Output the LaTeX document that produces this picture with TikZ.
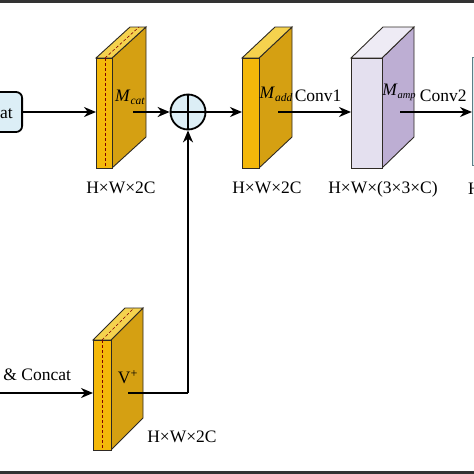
\documentclass[tikz,border=0pt]{standalone}
\usepackage{fontspec}
\setmainfont{Liberation Serif}
\usetikzlibrary{arrows.meta}
\definecolor{goldF}{HTML}{F4B80A}
\definecolor{goldS}{HTML}{D5A012}
\definecolor{goldT}{HTML}{F5D24E}
\definecolor{lavF}{HTML}{E4E0EF}
\definecolor{lavS}{HTML}{BDAED3}
\definecolor{lavT}{HTML}{EEEBF5}
\definecolor{edge}{HTML}{2E2A24}
\definecolor{opblue}{HTML}{DCEEF6}
\definecolor{tealF}{HTML}{DDEDEF}
\definecolor{tealE}{HTML}{5B7F86}
\newcommand\slab[8]{%
  \filldraw[#8S, draw=edge, line width=0.9pt] (#4,#3) -- ({#4+#6},{#3+#7}) -- ({#4+#6},{#5+#7}) -- (#4,#5) -- cycle;
  \filldraw[#8T, draw=edge, line width=0.9pt] (#2,#3) -- ({#2+#6},{#3+#7}) -- ({#4+#6},{#3+#7}) -- (#4,#3) -- cycle;
  \node[draw=edge, fill=#8F, line width=0.9pt, inner sep=0pt, outer sep=0pt, minimum width={#4-#2}, minimum height={#5-#3}, anchor=north west] (#1) at (#2,#3) {};
}
\begin{document}
\begin{tikzpicture}[x=1pt,y=-1pt,
  lbl/.style={font=\fontsize{17.5}{20}\selectfont, inner sep=0pt},
  arr/.style={line width=2.2pt, -{Stealth[length=12pt,width=10pt]}},
  ln/.style={line width=2.2pt},
  frame/.style={line width=3pt, draw=black!80}]
\useasboundingbox (0,0) rectangle (474,474);
\draw[frame] (0,1.5) -- (474,1.5);
\draw[frame] (0,472.5) -- (474,472.5);
% concat box
\node[draw, line width=1.8pt, fill=opblue, rounded corners=6pt, minimum width=60pt, minimum height=40pt, anchor=east, inner sep=0pt] (cbox) at (23,112) {};
\node[lbl, anchor=east] (ctext) at (13,113) {Concat};
% slabs
\slab{b1}{96}{58}{112}{168}{34}{-31}{gold}
\draw[densely dashed, draw=red!50!black, line width=0.6pt] (105,58) -- (105,168);
\draw[densely dashed, draw=red!50!black, line width=0.6pt] (105,58) -- (139,27);
\slab{b2}{242}{58}{259}{168}{33}{-31}{gold}
\slab{b3}{351}{58}{382}{168}{32}{-31}{lav}
\slab{bv}{93}{340}{111}{450}{32}{-32}{gold}
\draw[densely dashed, draw=red!50!black, line width=0.6pt] (102,340) -- (102,450);
\draw[densely dashed, draw=red!50!black, line width=0.6pt] (102,340) -- (134,308);
\node[draw=tealE, fill=tealF, line width=1.2pt, inner sep=0pt, minimum width=30pt, minimum height=108pt, anchor=north west] (b4) at (472,57) {};
% labels in slabs
\node[lbl] (lcat) at (130,97) {\textit{M}\raisebox{-0.35ex}{\fontsize{11.5}{12}\selectfont\textit{cat}}};
\node[lbl] (ladd) at (276,94) {\textit{M}\raisebox{-0.35ex}{\fontsize{11.5}{12}\selectfont\textit{add}}};
\node[lbl] (lamp) at (399,92) {\textit{M}\raisebox{-0.35ex}{\fontsize{10.5}{12}\selectfont\textit{amp}}};
\node[lbl] (lv) at (128,377) {V\textsuperscript{+}};
% dims
\node[lbl] (d1) at (121,188) {H×W×2C};
\node[lbl] (d2) at (267,188) {H×W×2C};
\node[lbl] (d3) at (383,189) {H×W×(3×3×C)};
\node[lbl, anchor=west] (d4) at (468,189) {H×W×C};
\node[lbl] (dv) at (182,437) {H×W×2C};
% op
\node[circle, draw, line width=1.8pt, fill=opblue, minimum size=35pt, inner sep=0pt] (add) at (188,112) {};
\draw[line width=1.4pt] (add.north) -- (add.south) (add.west) -- (add.east);
% coordinates
\coordinate (s1) at (133,112);
\coordinate (s2) at (278,112);
\coordinate (s3) at (400,112);
\coordinate (sv) at (128,393);
\coordinate (inv) at (0,393);
\coordinate (cornerv) at (188,393);
% connectors
\draw[arr] (cbox.east) -- (b1.west |- cbox.east);
\draw[arr] (s1) -- (add.west);
\draw[arr] (add.east) -- (b2.west |- add.east);
\draw[arr] (s2) -- node[lbl, above=9pt, pos=0.55] (c1) {Conv1} (b3.west |- s2);
\draw[arr] (s3) -- node[lbl, above=9pt, pos=0.6] (c2) {Conv2} (b4.west |- s3);
\draw[arr] (inv) -- node[lbl, above=11pt, pos=0.4] (cc) {\& Concat} (bv.west |- inv);
\draw[ln] (sv) -- (cornerv);
\draw[arr] (cornerv) -- (add.south);
\end{tikzpicture}
\end{document}
